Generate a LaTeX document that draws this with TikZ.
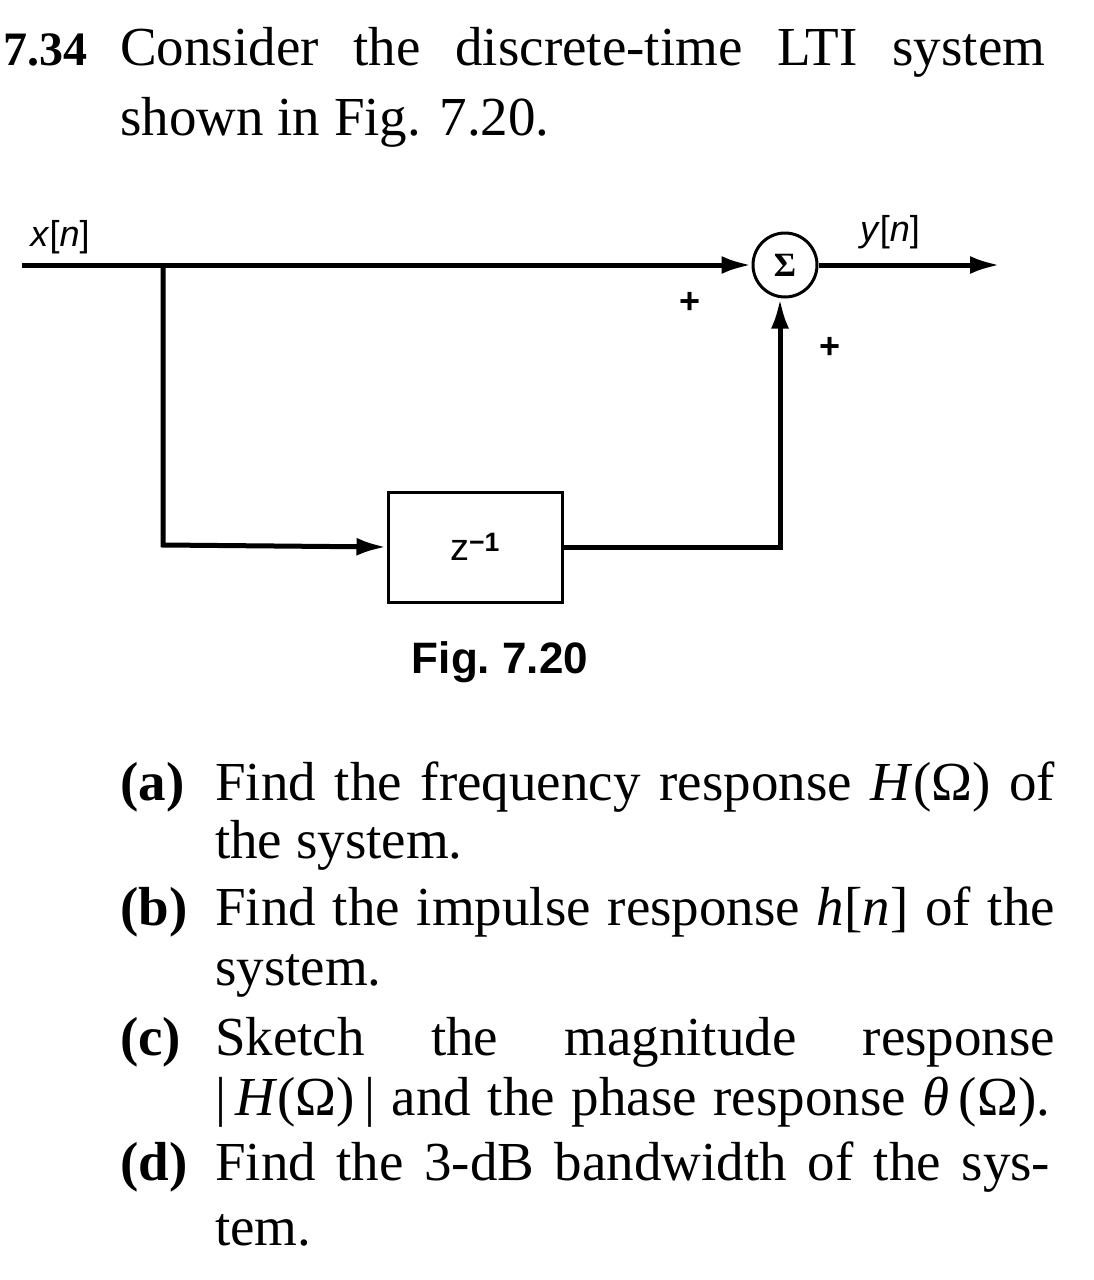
\documentclass[tikz,border=0pt]{standalone}
\usepackage{fontspec}
\setmainfont{Liberation Serif}
\setsansfont{Liberation Sans}
\usetikzlibrary{arrows.meta}
\newcommand{\jl}[2]{\hbox to #1{#2}}
\tikzset{
  wire/.style={line width=5pt},
  arr/.style={wire,-{Latex[length=30pt,width=18pt]}},
  txt/.style={anchor=base west,inner sep=0pt,font=\fontsize{55}{60}\selectfont},
  lab/.style={txt,font=\fontsize{55}{60}\selectfont\bfseries},
  dlab/.style={inner sep=0pt,font=\sffamily\fontsize{36}{40}\selectfont}
}
\begin{document}
\begin{tikzpicture}[x=1pt,y=-1pt]
\useasboundingbox (0,0) rectangle (1093,1280);
% title
\node[txt,font=\fontsize{48}{54}\selectfont\bfseries] (num) at (3,65) {7.34};
\node[txt] (t1) at (120,65) {\jl{925pt}{Consider the discrete-time LTI system}};
\node[txt] (t2) at (120,135) {shown in Fig. 7.20.};
% diagram
\coordinate (in) at (22,265);
\coordinate (br) at (163,265);
\coordinate (bl) at (163,545);
\node[draw,line width=3pt,circle,minimum size=64pt,inner sep=0pt] (sum) at (785,265) {\fontsize{34}{36}\selectfont\bfseries Σ};
\node[draw,line width=3pt,minimum width=174pt,minimum height=110pt,inner sep=0pt,font=\sffamily\fontsize{38}{40}\selectfont] (del) at (475,547) {z\textsuperscript{\bfseries−1}};
\coordinate (out) at (1000,265);
\coordinate (rc) at (780,547);
\draw[arr] (in) -- (sum.west);
\draw[arr] (sum.east) -- (out);
\draw[arr] (br) -- (bl) -- (del.west);
\draw[arr] (del.east) -- (rc) -- (rc|-sum.south);
\node[dlab] (xl) at (60,237) {\textit{x}[\textit{n}]};
\node[dlab] (yl) at (890,232) {\textit{y}[\textit{n}]};
\node[dlab,font=\sffamily\bfseries\fontsize{36}{40}\selectfont] (p1) at (690,303) {+};
\node[dlab,font=\sffamily\bfseries\fontsize{36}{40}\selectfont] (p2) at (830,348) {+};
\node[inner sep=0pt,font=\sffamily\bfseries\fontsize{44}{48}\selectfont] (fig) at (500,662) {Fig.~7.20};
% questions
\node[lab] (a) at (120,800) {(a)};
\node[txt] (a1) at (215,800) {\jl{840pt}{Find the frequency response \textit{H}(Ω) of}};
\node[txt] (a2) at (215,858) {the system.};
\node[lab] (b) at (120,925) {(b)};
\node[txt] (b1) at (215,925) {\jl{840pt}{Find the impulse response \textit{h}[\textit{n}] of the}};
\node[txt] (b2) at (215,985) {system.};
\node[lab] (c) at (120,1055) {(c)};
\node[txt] (c1) at (215,1055) {\jl{840pt}{Sketch the magnitude response}};
\node[txt] (c2) at (215,1115) {\jl{835pt}{|\,\textit{H}(Ω)\,| and the phase response \textit{θ}\,(Ω).}};
\node[lab] (d) at (120,1180) {(d)};
\node[txt] (d1) at (215,1180) {\jl{835pt}{Find the 3-dB bandwidth of the sys-}};
\node[txt] (d2) at (215,1245) {tem.};
\end{tikzpicture}
\end{document}
